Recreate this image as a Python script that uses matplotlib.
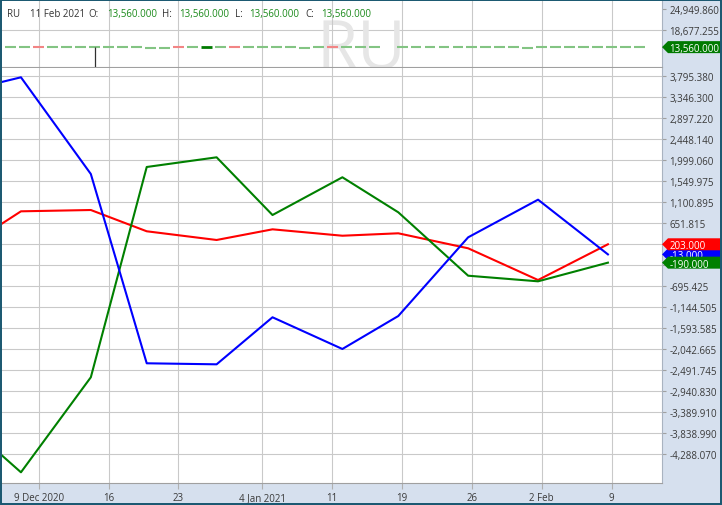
import numpy as np
import pandas as pd
import matplotlib
matplotlib.use("Agg")
import matplotlib.pyplot as plt
from matplotlib.patches import Rectangle, Polygon
from matplotlib import transforms

plt.rcParams['font.family'] = ['Open Sans', 'DejaVu Sans']

# ---------------- data ----------------
holidays = ["2020-12-25", "2021-01-01", "2021-01-18"]

cot_dates = ["2020-12-01", "2020-12-08", "2020-12-15", "2020-12-21", "2020-12-29",
             "2021-01-05", "2021-01-12", "2021-01-19", "2021-01-26", "2021-02-02",
             "2021-02-09"]
blue_net = [3410, 3774, 1706, -2342, -2364, -1358, -2036, -1331, 352, 1157, -13]
green_net = [-3350, -4673, -2641, 1856, 2063, 829, 1636, 887, -469, -589, -190]
red_net = [-60, 908, 936, 481, 295, 523, 386, 438, 117, -561, 203]

last_labels = [("-13.000", "#0000ff", -13), ("203.000", "#ff0000", 203),
               ("-190.000", "#008000", -190)]

# daily price bars (top pane), 4 Dec 2020 .. 11 Feb 2021
bar_first, bar_last = "2020-12-04", "2021-02-11"
bar_close = [13560, 13560, 13560, 13560, 13560, 13560, 13560, 13560, 13560, 13560,
             13560, 13260, 13260, 13560, 13560, 13560, 13560, 13560, 13560, 13560,
             13560, 13560, 13260, 13560, 13560, 13560, 13560, 13560, np.nan, 13560,
             13560, 13560, 13560, 13560, 13560, 13560, 13560, 13560, 13260, 13560,
             13560, 13560, 13560, 13560, 13560, 13560, 13560]
bar_kind = ["u", "u", "u", "d", "u", "u", "u", "u", "u", "u",
            "u", "u", "u", "d", "u", "U", "u", "d", "u", "u",
            "u", "u", "u", "u", "d", "u", "u", "u", "u", "u",
            "u", "u", "u", "u", "u", "u", "u", "u", "u", "u",
            "u", "u", "u", "u", "u", "u", "u"]
spike_date, spike_low = "2020-12-15", 5000
last_price = 13560

main_ticks = [3795.380, 3346.300, 2897.220, 2448.140, 1999.060, 1549.975, 1100.895,
              651.815, 202.735, -246.345, -695.425, -1144.505, -1593.585, -2042.665,
              -2491.745, -2940.830, -3389.910, -3838.990, -4288.070]
main_tick_labels = ["3,795.380", "3,346.300", "2,897.220", "2,448.140", "1,999.060",
                    "1,549.975", "1,100.895", "651.815", "", "", "-695.425",
                    "-1,144.505", "-1,593.585", "-2,042.665", "-2,491.745",
                    "-2,940.830", "-3,389.910", "-3,838.990", "-4,288.070"]
top_ticks = [24949.860, 18677.255]
top_tick_labels = ["24,949.860", "18,677.255"]

x_tick_dates = ["2020-12-09", "2020-12-16", "2020-12-23", "2021-01-04", "2021-01-11",
                "2021-01-19", "2021-01-26", "2021-02-02", "2021-02-09"]
x_tick_labels = ["9 Dec 2020", "16", "23", "4 Jan 2021", "11", "19", "26", "2 Feb", "9"]

header = [("RU", "#333333", 7), ("11 Feb 2021", "#333333", 30), ("O:", "#333333", 88),
          ("13,560.000", "#1a8a1a", 107), ("H:", "#333333", 162),
          ("13,560.000", "#1a8a1a", 179), ("L:", "#333333", 235),
          ("13,560.000", "#1a8a1a", 249), ("C:", "#333333", 305),
          ("13,560.000", "#1a8a1a", 321)]

# ---------------- trading-day index ----------------
days = pd.bdate_range("2020-11-30", "2021-02-12")
days = days[~days.isin(pd.to_datetime(holidays))]
pos = {d: i for i, d in enumerate(days)}
origin = pos[pd.Timestamp("2020-12-09")]


def tidx(s):
    return pos[pd.Timestamp(s)] - origin


POINT_SHIFT = -0.27

# ---------------- figure ----------------
W, H = 722, 506
fig = plt.figure(figsize=(W / 100, H / 100), dpi=100)
fig.patch.set_facecolor("white")


def fr(x0, y0, x1, y1):
    return [x0 / W, 1 - y1 / H, (x1 - x0) / W, (y1 - y0) / H]


panel = "#d6e0ee"
fig.patches.append(Rectangle((662 / W, 0), 60 / W, 1, transform=fig.transFigure,
                             facecolor=panel, edgecolor="none", zorder=-1))
fig.patches.append(Rectangle((0, 0), 1, (H - 483.5) / H, transform=fig.transFigure,
                             facecolor=panel, edgecolor="none", zorder=-1))

ax_top = fig.add_axes(fr(2, 2, 662, 68))
ax = fig.add_axes(fr(2, 69, 662, 483.5), sharex=ax_top)

grid_c = "#c9c9c9"
tick_c = "#3a3a3a"
xmin, xmax = -2.626, 44.6

for a in (ax_top, ax):
    a.set_facecolor("white")
    for s in ("left", "top"):
        a.spines[s].set_visible(False)
    a.spines["right"].set_color("#a9b3c0")
    a.spines["bottom"].set_color("#a0a0a0")
    a.yaxis.tick_right()
    a.tick_params(axis="y", direction="out", length=3, width=0.8, color="#a0a0a0",
                  pad=2.5, labelsize=7, labelcolor=tick_c)

xt = [tidx(d) for d in x_tick_dates]
ax.set_xticks(xt)
ax.set_xticklabels(x_tick_labels)
ax.tick_params(axis="x", direction="out", length=4, width=0.8, color="#b0b0b0",
               pad=3, labelsize=7, labelcolor=tick_c)
ax_top.tick_params(axis="x", length=0, labelbottom=False)
ax.set_xlim(xmin, xmax)

# main pane
ax.set_ylim(-4891.3, 3972.9)
ax.set_yticks(main_ticks)
ax.set_yticklabels(main_tick_labels)
ax.grid(True, color=grid_c, lw=0.8)
ax.set_axisbelow(True)

cx = np.array([tidx(d) for d in cot_dates]) + POINT_SHIFT
ax.plot(cx, red_net, color="#ff0000", lw=1.5, zorder=3)
ax.plot(cx, green_net, color="#008000", lw=1.5, zorder=3)
ax.plot(cx, blue_net, color="#0000ff", lw=1.5, zorder=3)

# top pane
ax_top.set_ylim(7625, 27339)
ax_top.set_yticks(top_ticks)
ax_top.set_yticklabels(top_tick_labels)
ax_top.grid(True, axis="x", color=grid_c, lw=0.8)
ax_top.axhline(top_ticks[1], color=grid_c, lw=0.8, zorder=0.6)
ax_top.text(0.545, -0.02, "RU", transform=ax_top.transAxes, fontsize=48,
            color="#e6e6e6", ha="center", va="baseline", zorder=0.7, clip_on=True)

bdays = days[(days >= pd.Timestamp(bar_first)) & (days <= pd.Timestamp(bar_last))]
kind_col = {"u": ("#83c483", 1.5), "d": ("#f28585", 1.5), "U": ("#007a00", 2.0)}
for d, c, k in zip(bdays, bar_close, bar_kind):
    if np.isnan(c):
        continue
    t = pos[d] - origin
    col, lw = kind_col[k]
    ax_top.hlines(c, t - 0.39, t + 0.39, color=col, lw=lw, zorder=3)
ax_top.vlines(tidx(spike_date), spike_low, last_price, color="#303030", lw=0.9, zorder=3)


# price labels on the right scale
def price_label(axis, value, text, color, z):
    trans = transforms.blended_transform_factory(fig.transFigure, axis.transData)
    y0, y1 = axis.get_ylim()
    h = 6 * (y1 - y0) / axis.bbox.height
    xa, xb, xc = 662 / W, 668 / W, 720 / W
    poly = Polygon([(xa, value), (xb, value + h), (xc, value + h), (xc, value - h),
                    (xb, value - h)], closed=True, transform=trans, facecolor=color,
                   edgecolor="none", zorder=z)
    fig.add_artist(poly)
    fig.text(669.5 / W, value, text, transform=trans, color="white", fontsize=7,
             ha="left", va="center_baseline", zorder=z + 0.1)


for i, (txt, col, val) in enumerate(last_labels):
    price_label(ax, val, txt, col, 5 + i)
price_label(ax_top, last_price, "13,560.000", "#007a00", 5)

# header
for txt, col, x in header:
    fig.text(x / W, 1 - 14.3 / H, txt, color=col, fontsize=7, ha="left", va="center")

# outer border
fig.patches.append(Rectangle((0.75 / W, 0.75 / H), (W - 1.5) / W, (H - 1.5) / H,
                             transform=fig.transFigure, facecolor="none",
                             edgecolor="#17566f", lw=1.4, zorder=10))

fig.savefig("out.png", dpi=100)
